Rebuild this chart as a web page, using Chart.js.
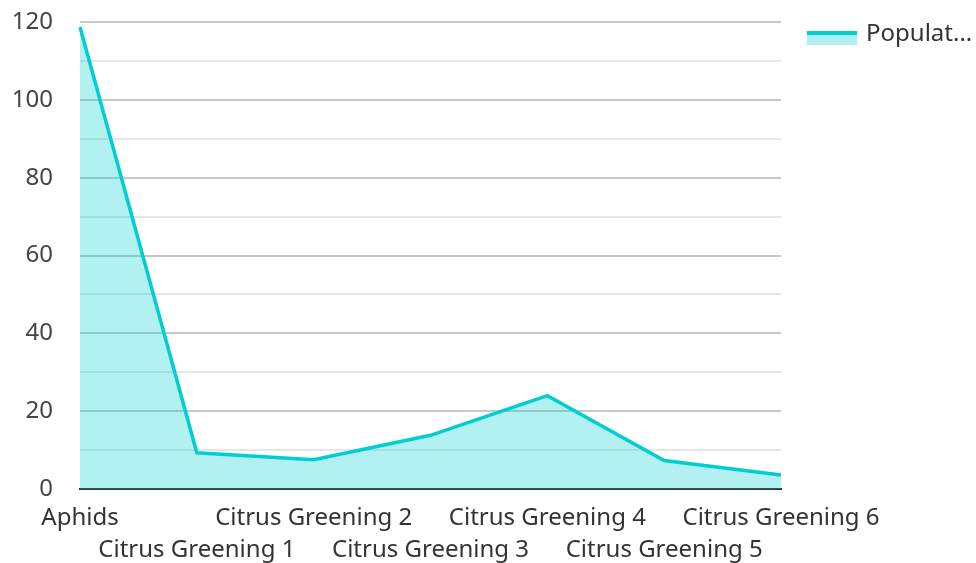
<!DOCTYPE html>
<html>
<head>
<meta charset="utf-8">
<script src="https://cdn.jsdelivr.net/npm/chart.js@4/dist/chart.umd.min.js"></script>
<style>
  html, body { margin: 0; padding: 0; background: #fff; }
  #wrap { width: 976px; height: 563px; }
</style>
</head>
<body>
<div id="wrap"><canvas id="chart"></canvas></div>
<script>
// data
const categories = ['Aphids', 'Citrus Greening 1', 'Citrus Greening 2', 'Citrus Greening 3',
  'Citrus Greening 4', 'Citrus Greening 5', 'Citrus Greening 6'];
const population = [118.7, 9.3, 7.5, 13.8, 24, 7.3, 3.6];
const seriesLabel = 'Populat...';
const yTicks = [0, 20, 40, 60, 80, 100, 120];

const lineColor = '#00CED1';
const fillColor = 'rgba(0, 206, 209, 0.3)';
const fontFamily = '"Noto Sans", "Open Sans", sans-serif';

// legend drawn by hand: thick line over a filled band
const legendPlugin = {
  id: 'sideLegend',
  afterDraw(chart) {
    const ctx = chart.ctx;
    const x = chart.chartArea.right + 26;
    const y = 31;
    ctx.save();
    ctx.fillStyle = fillColor;
    ctx.fillRect(x, y + 4, 50, 10);
    ctx.fillStyle = lineColor;
    ctx.fillRect(x, y, 50, 4);
    ctx.fillStyle = '#333';
    ctx.font = '24px ' + fontFamily;
    ctx.textBaseline = 'middle';
    ctx.fillText(seriesLabel, x + 59, y + 3);
    ctx.restore();
  }
};

new Chart(document.getElementById('chart'), {
  type: 'line',
  data: {
    labels: categories,
    datasets: [{
      label: seriesLabel,
      data: population,
      borderColor: lineColor,
      backgroundColor: fillColor,
      borderWidth: 3.5,
      fill: 'origin',
      tension: 0,
      pointRadius: 0
    }]
  },
  options: {
    responsive: true,
    maintainAspectRatio: false,
    animation: false,
    layout: { padding: { top: 0, right: 195, left: 0, bottom: 0 } },
    plugins: { legend: { display: false }, tooltip: { enabled: false } },
    scales: {
      x: {
        afterFit: s => { s.height = 74; s.paddingLeft = 0; s.paddingRight = 0; },
        grid: { display: false, drawTicks: false },
        border: { color: '#333', width: 2 },
        ticks: {
          autoSkip: false, maxRotation: 0, padding: 14,
          color: '#333', font: { family: fontFamily, size: 24, lineHeight: 1.3 },
          callback: (v, i) => i % 2 ? ['', categories[i]] : categories[i]
        }
      },
      y: {
        min: 0, max: 120,
        afterFit: s => { s.width = 80; s.paddingTop = 22; s.paddingBottom = 0; },
        border: { display: false },
        grid: {
          drawTicks: false,
          color: c => c.tick.value % 20 === 0 ? '#c8c8c8' : '#e6e6e6',
          lineWidth: 2
        },
        ticks: {
          stepSize: 10, padding: 27,
          color: '#444', font: { family: fontFamily, size: 24 },
          callback: v => yTicks.includes(v) ? v : ''
        }
      }
    }
  },
  plugins: [legendPlugin]
});
</script>
</body>
</html>
